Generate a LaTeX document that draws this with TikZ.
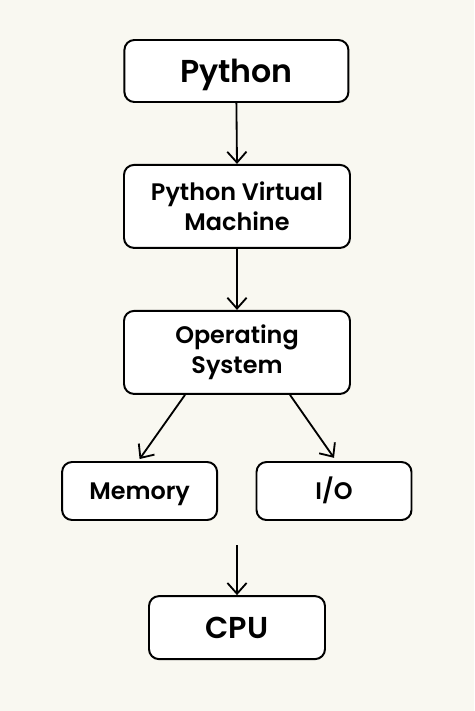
\documentclass[tikz,border=0pt]{standalone}
\usepackage{fontspec}
\setmainfont{Poppins}[BoldFont={Poppins SemiBold}]
\usetikzlibrary{arrows.meta}
\definecolor{paper}{RGB}{249,248,241}

\begin{document}
\begin{tikzpicture}[box/.style={rectangle,draw,line width=1.4pt,rounded corners=0.25cm,fill=white,align=center,font=\bfseries},
                    single/.style={text height=#1,text depth=0pt},
                    flow/.style={line width=1.3pt,-{Straight Barb[length=2.7mm,width=4.8mm,line width=1.3pt]}}]
\fill[paper] (0,0) rectangle (11.85,-17.775);
\useasboundingbox (0,0) rectangle (11.85,-17.775);

\node[box, single=15.8pt, minimum width=5.6cm, minimum height=1.55cm, font=\bfseries\fontsize{22.5}{25}\selectfont]
      (python) at (5.91,-1.775) {Python};
\node[box, minimum width=5.65cm, minimum height=2.075cm, font=\bfseries\fontsize{17}{21.5}\selectfont]
      (pvm) at (5.925,-5.16) {Python Virtual\\Machine};
\node[box, minimum width=5.65cm, minimum height=2.075cm, font=\bfseries\fontsize{17}{21.5}\selectfont]
      (os) at (5.925,-8.81) {Operating\\System};
\node[box, single=12pt, minimum width=3.875cm, minimum height=1.45cm, font=\bfseries\fontsize{17}{20}\selectfont]
      (mem) at (3.49,-12.275) {Memory};
\node[box, single=12pt, minimum width=3.875cm, minimum height=1.45cm, font=\bfseries\fontsize{17}{20}\selectfont]
      (io) at (8.35,-12.275) {I/O};
\node[box, single=15pt, minimum width=4.4cm, minimum height=1.575cm, font=\bfseries\fontsize{21.5}{24}\selectfont]
      (cpu) at (5.925,-15.69) {CPU};
\coordinate (free) at (5.925,-13.625);

\draw[flow] (python.south) -- (pvm.north);
\draw[flow] (pvm.south) -- (os.north);
\draw[flow] ([xshift=-1.3cm]os.south) -- ([yshift=0.05cm]mem.north);
\draw[flow] ([xshift=1.325cm]os.south) -- ([yshift=0.08cm]io.north);
\draw[flow] (free) -- (cpu.north);

\end{tikzpicture}
\end{document}
